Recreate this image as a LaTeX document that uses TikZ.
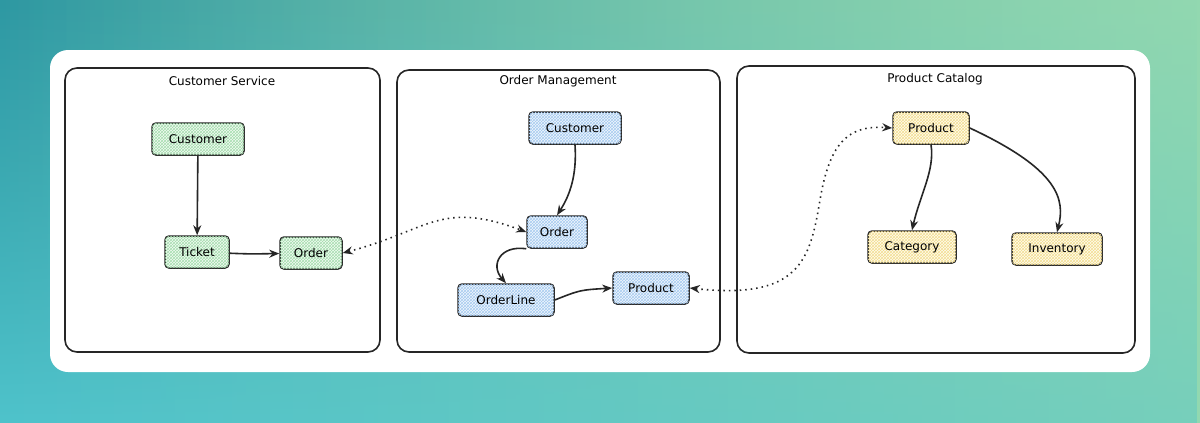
\documentclass[tikz,border=0pt]{standalone}
\usepackage{fontspec}
\setmainfont{DejaVu Sans}
\usetikzlibrary{patterns,arrows.meta,fadings}
\definecolor{gfill}{HTML}{F2FBF3}
\definecolor{ghatch}{HTML}{A6DDAE}
\definecolor{bfill}{HTML}{F1F7FD}
\definecolor{bhatch}{HTML}{A6CAF0}
\definecolor{yfill}{HTML}{FFFCEF}
\definecolor{yhatch}{HTML}{F3DE92}
\definecolor{bgA}{HTML}{2E98A2}
\definecolor{bgB}{HTML}{92D8B0}
\definecolor{bgC}{HTML}{4FC3CC}
\tikzset{
  panel/.style={draw=black!85,line width=1.6pt,rounded corners=12pt},
  box/.style={draw=black!85,line width=1.5pt,rounded corners=4pt,minimum height=32pt,
    font=\fontsize{12}{14}\selectfont,inner sep=4pt},
  gbox/.style={box,fill=gfill,postaction={pattern=crosshatch,pattern color=ghatch}},
  bbox/.style={box,fill=bfill,postaction={pattern=crosshatch,pattern color=bhatch}},
  ybox/.style={box,fill=yfill,postaction={pattern=crosshatch,pattern color=yhatch}},
  title/.style={font=\fontsize{12}{14}\selectfont},
  arr/.style={-{Stealth[length=10pt,width=8pt]},line width=1.6pt,black!85},
  dots/.style={{Stealth[length=10pt,width=8pt]}-{Stealth[length=10pt,width=8pt]},line width=1.6pt,black!85,dash pattern=on 1.5pt off 4pt}
}
\begin{document}
\begin{tikzpicture}[x=1pt,y=-1pt]
\useasboundingbox (0,0) rectangle (1200,423);
\shade[left color=bgA,right color=bgB] (0,0) rectangle (1200,423);
\fill[bgC,path fading=north] (0,0) rectangle (1200,423);
\fill[bgB,path fading=west,opacity=0.6] (0,0) rectangle (1200,423);
\fill[white,rounded corners=18pt] (50,50) rectangle (1150,372);
% panels
\draw[panel] (65,68) rectangle (380,352);
\draw[panel] (397,70) rectangle (720,352);
\draw[panel] (737,66) rectangle (1135,353);
\node[title] (t1) at (222,81) {Customer Service};
\node[title] (t2) at (558,81) {Order Management};
\node[title] (t3) at (935,79) {Product Catalog};
% nodes
\node[gbox,minimum width=92pt] (cust) at (198,139) {Customer};
\node[gbox,minimum width=64pt] (ticket) at (197,252) {Ticket};
\node[gbox,minimum width=62pt] (ord1) at (311,253) {Order};
\node[bbox,minimum width=92pt] (cust2) at (575,128) {Customer};
\node[bbox,minimum width=60pt] (ord2) at (557,232) {Order};
\node[bbox,minimum width=96pt] (line) at (506,300) {OrderLine};
\node[bbox,minimum width=76pt] (prod2) at (651,288) {Product};
\node[ybox,minimum width=76pt] (prod3) at (931,128) {Product};
\node[ybox,minimum width=88pt] (cat) at (912,247) {Category};
\node[ybox,minimum width=90pt] (inv) at (1057,249) {Inventory};
% connectors
\draw[arr] (cust) -- (ticket);
\draw[arr] (ticket) .. controls (250,254) .. (ord1);
\draw[arr] (cust2.south) .. controls (577,175) and (570,195) .. (ord2.north);
\draw[arr] (ord2.south west) .. controls (500,245) and (490,265) .. (line.north);
\draw[arr] (line.east) .. controls (580,290) .. (prod2.west);
\draw[arr] (prod3.south) .. controls (935,170) and (920,195) .. (cat.north);
\draw[arr] (prod3.east) .. controls (1060,170) and (1065,200) .. (inv.north);
\draw[dots] (ord1.east) .. controls (430,230) and (440,200) .. (ord2.west);
\draw[dots] (prod2.east) .. controls (800,300) and (810,260) .. (820,200) .. controls (830,140) and (850,125) .. (prod3.west);
\end{tikzpicture}
\end{document}
